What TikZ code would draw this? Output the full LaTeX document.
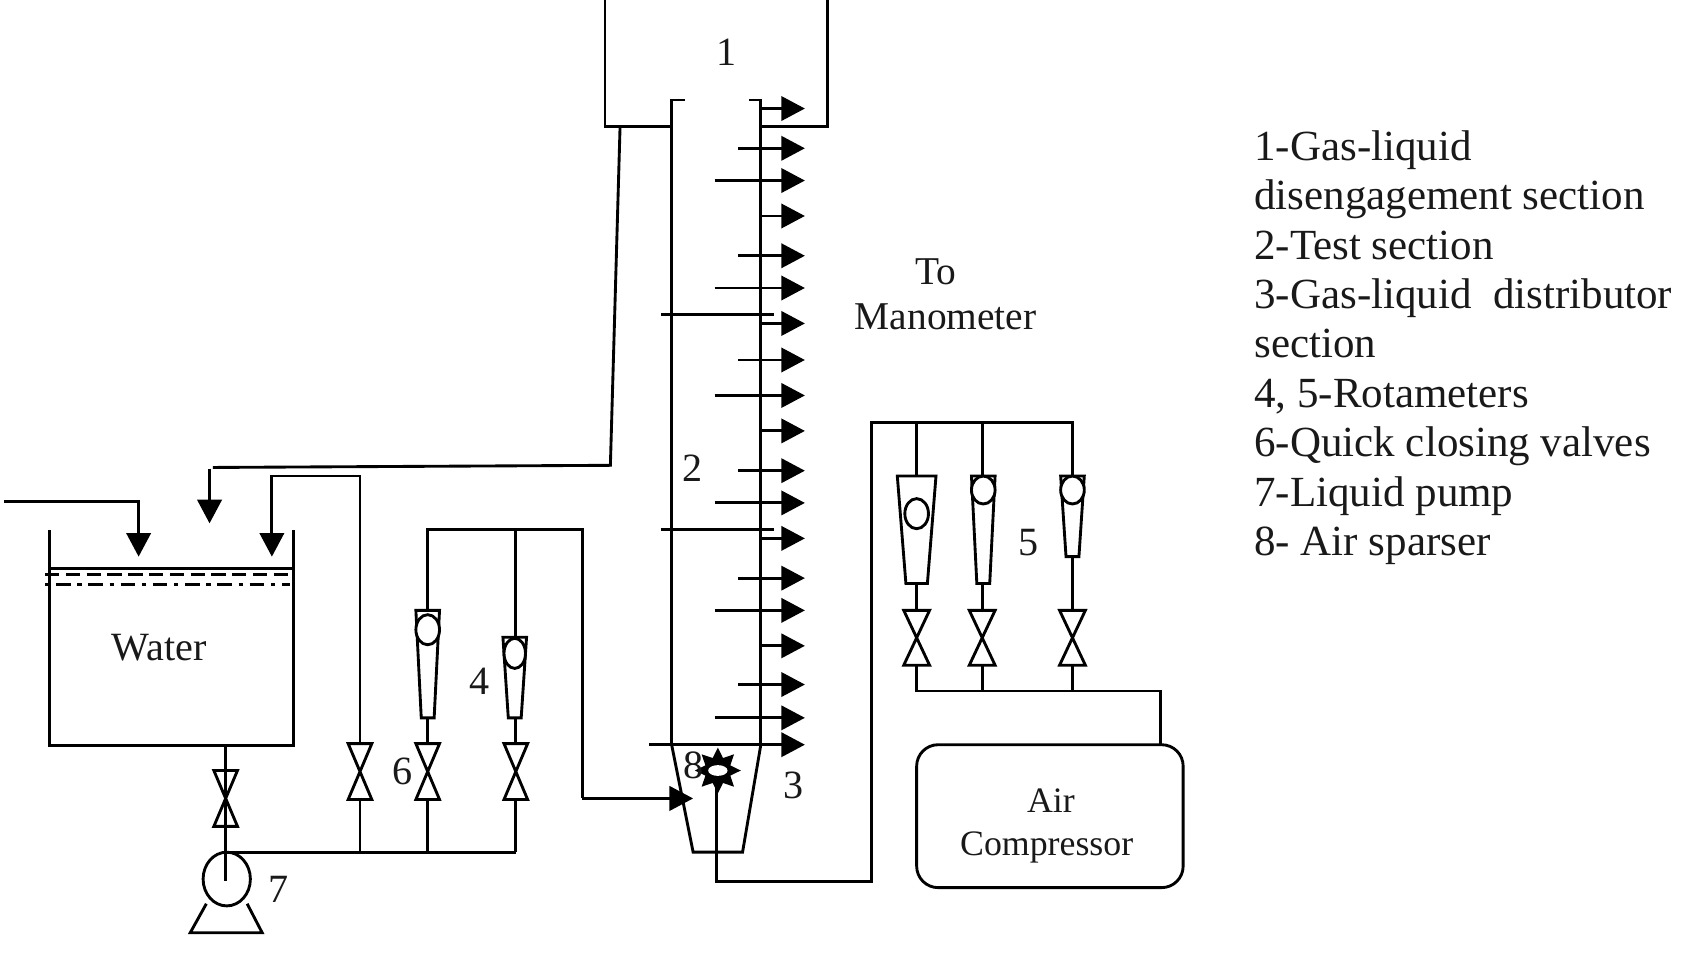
\documentclass[tikz,border=0pt]{standalone}
\usepackage{fontspec}
\setmainfont{Liberation Serif}
\usetikzlibrary{arrows.meta,shapes.geometric}
\tikzset{
  pipe/.style={line width=2pt,line join=miter},
  flow/.style={pipe,-{Triangle[length=16.5pt,width=17pt]}},
  lbl/.style={font=\fontsize{28}{34}\selectfont,inner sep=0pt,text=black!90},
  small/.style={font=\fontsize{25}{30}\selectfont,inner sep=0pt,text=black!90},
  legend/.style={font=\fontsize{30}{34.5}\selectfont,inner sep=0pt,anchor=north west,align=left,text=black!90},
}
% valve: x, top y, bottom y, half width
\newcommand{\myvalve}[4]{\draw[pipe] (#1-#4,#2)--(#1+#4,#2)--(#1-#4,#3)--(#1+#4,#3)--cycle;}
% rotameter: x, top y, bottom y, top half, bottom half, ball x, ball y, ball rx, ball ry
\newcommand{\myrota}[9]{\draw[pipe] (#1-#4,#2)--(#1+#4,#2)--(#1+#5,#3)--(#1-#5,#3)--cycle;
  \draw[pipe,fill=white] (#6,#7) ellipse [x radius=#8,y radius=#9];}
\begin{document}
\begin{tikzpicture}[x=0.75pt,y=-0.75pt]
\useasboundingbox (0,0) rectangle (1568,893.3);
% disengagement section
\draw[pipe] (563,-4)--(563,118)--(625,118);
\draw[pipe] (770,-4)--(770,118)--(708,118);
% column
\draw[pipe] (637,93)--(625,93)--(625,693);
\draw[pipe] (697,93)--(708,93)--(708,693);
\draw[pipe] (625,693)--(645,793)--(691,793)--(708,693);
% manometer taps
\foreach \yy/\xs in {101/708,138/687,168/665,201/708,238/687,268/665,301/708,335/687,368/665,401/708,438/687,468/665,501/708,538/687,568/665,601/708,637/687,668/665,693/604}
  \draw[flow] (\xs,\yy)--(749,\yy);
\draw[pipe] (615,293)--(720,293);
\draw[pipe] (615,493)--(720,493);
% tank
\draw[pipe] (46,493)--(46,694)--(273,694)--(273,493);
\draw[pipe] (46,529)--(273,529);
\draw[pipe,dash pattern=on 10pt off 4.5pt] (42,535)--(270,535);
\draw[pipe,dash pattern=on 3pt off 4.75pt on 10pt off 4.75pt] (42,544)--(270,544);
% inflows
\draw[flow] (4,467)--(129,467)--(129,518);
\draw[pipe] (198,435)--(568,433)--(577,118);
\draw[flow] (195,436)--(195,487);
\draw[flow] (335,692)--(335,443)--(253,443)--(253,518);
% pump line
\draw[pipe] (210,694)--(210,820);
\draw[pipe] (210,793)--(480,793);
\draw[pipe] (335,744)--(335,793);
\myvalve{210}{717}{769}{11}
\myvalve{335}{692}{744}{11}
\draw[pipe] (211,818) ellipse [x radius=22,y radius=25];
\draw[pipe] (192,841)--(177,868)--(244,868)--(230,841);
% liquid rotameters
\draw[pipe] (398,793)--(398,744);
\draw[pipe] (398,692)--(398,668);
\draw[pipe] (398,568)--(398,493)--(542,493)--(542,743);
\draw[flow] (542,743)--(645,743);
\draw[pipe] (480,493)--(480,593);
\draw[pipe] (480,668)--(480,692);
\draw[pipe] (480,744)--(480,793);
\myvalve{398}{692}{744}{11}
\myvalve{480}{692}{744}{11}
\myrota{398}{568}{668}{11}{6}{398}{586}{11}{14}
\myrota{479}{593}{668}{11}{6}{479}{608}{10}{14}
% sparger
\draw[pipe] (667,725)--(667,820)--(811,820)--(811,393)--(998,393)--(998,443);
\draw[pipe] (853,393)--(853,443);
\draw[pipe] (914,393)--(914,443);
\node[star,star points=8,star point ratio=1.7,fill=black,minimum size=32pt,inner sep=0pt] (sparger) at (668,717) {};
\draw[fill=white,draw=none] (668,717) ellipse [x radius=9,y radius=5];
% air rotameters
\myrota{853}{443}{543}{18}{10}{853}{478}{11}{14}
\myrota{915}{443}{543}{11}{6}{915}{456}{11}{13}
\myrota{998}{443}{518}{11}{6}{998}{456}{11}{13}
\draw[pipe] (853,543)--(853,568);
\draw[pipe] (914,543)--(914,568);
\draw[pipe] (998,518)--(998,568);
\myvalve{853}{568}{619}{12}
\myvalve{914}{568}{619}{12}
\myvalve{998}{568}{619}{12}
\draw[pipe] (853,619)--(853,643)--(1080,643)--(1080,693);
\draw[pipe] (914,619)--(914,643);
\draw[pipe] (998,619)--(998,643);
% compressor
\draw[pipe,rounded corners=15pt] (853,693) rectangle (1101,826);
% labels
\node[lbl] (n1) at (676,49) {1};
\node[lbl] (n2) at (644,436) {2};
\node[lbl] (n3) at (738,731) {3};
\node[lbl] (n4) at (446,634) {4};
\node[lbl] (n5) at (957,505) {5};
\node[lbl] (n6) at (375,718) {6};
\node[lbl] (n7) at (259,828) {7};
\node[lbl] (n8) at (645,712) {8};
\node[lbl] (water) at (148,603) {Water};
\node[lbl,font=\fontsize{27.5}{30}\selectfont] (to) at (871,253) {To};
\node[lbl,font=\fontsize{27.5}{30}\selectfont] (mano) at (880,295) {Manometer};
\node[small] (air) at (978,745) {Air};
\node[small] (comp) at (974,789) {Compressor};
\node[legend] (legend) at (1167,121) {1-Gas-liquid\\disengagement section\\2-Test section\\3-Gas-liquid\ \ distributor\\section\\4, 5-Rotameters\\6-Quick closing valves\\7-Liquid pump\\8- Air sparser};
\end{tikzpicture}
\end{document}
